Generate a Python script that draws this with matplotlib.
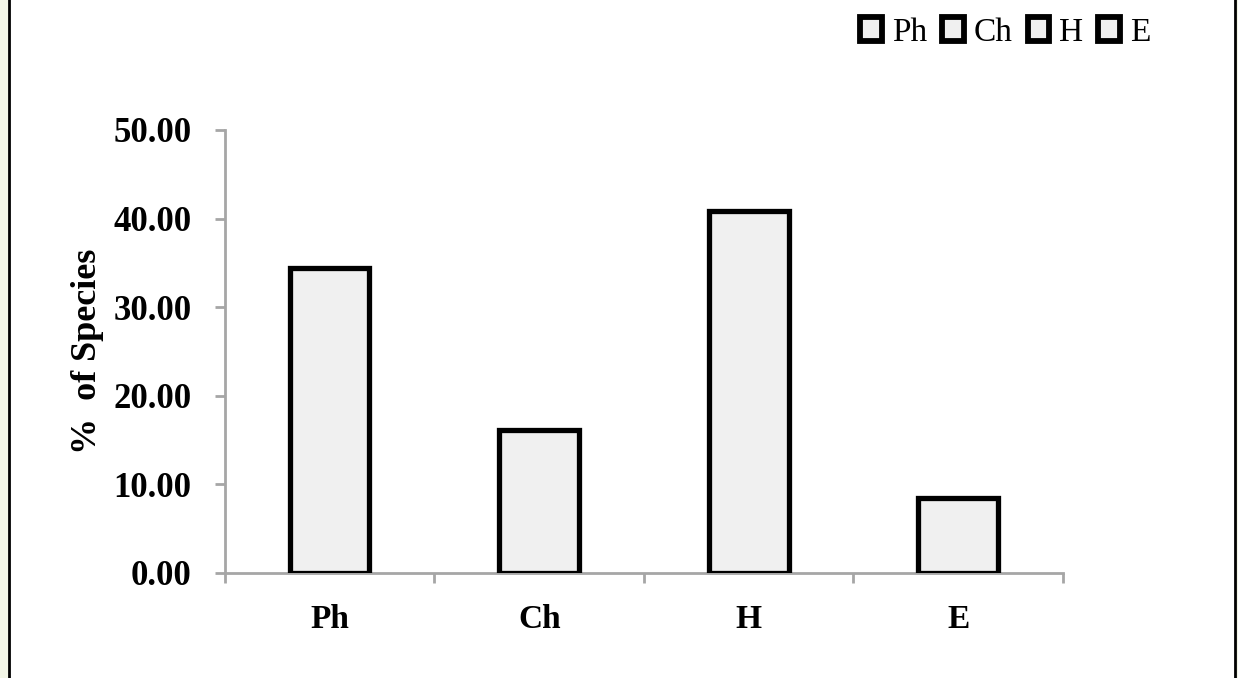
import matplotlib
matplotlib.use('Agg')
import matplotlib.pyplot as plt
from matplotlib.patches import Patch, Rectangle

# datos
categorias = ['Ph', 'Ch', 'H', 'E']
porcentajes = [34.4, 16.1, 40.9, 8.5]
ticks_y = [0, 10, 20, 30, 40, 50]

plt.rcParams['font.family'] = 'Liberation Serif'

fig = plt.figure(figsize=(12.38, 6.78), dpi=100)
ax = fig.add_axes([0.1817, 0.1549, 0.6769, 0.6534])

gris = '#a6a6a6'
pos = range(len(categorias))
ax.bar(pos, porcentajes, width=0.38, color='#f0f0f0', edgecolor='black', linewidth=3.8, zorder=3)

ax.set_xlim(-0.5, len(categorias) - 0.5)
ax.set_ylim(0, 50)
ax.set_yticks(ticks_y)
ax.set_yticklabels(['%.2f' % v for v in ticks_y], fontsize=25, fontweight='bold')
ax.set_xticks([p - 0.5 for p in range(len(categorias) + 1)])
ax.set_xticklabels([])
ax.set_xticks(list(pos), minor=True)
ax.set_xticklabels(categorias, minor=True, fontsize=24, fontweight='bold')
ax.tick_params(axis='x', which='minor', length=0, pad=22)
ax.tick_params(axis='x', which='major', length=7, width=2, color=gris, direction='out')
ax.tick_params(axis='y', length=7, width=2, color=gris, direction='out', pad=17)

for lado in ['top', 'right']:
    ax.spines[lado].set_visible(False)
for lado in ['left', 'bottom']:
    ax.spines[lado].set_color(gris)
    ax.spines[lado].set_linewidth(2)

ax.set_ylabel('%  of Species', fontsize=26, fontweight='bold', labelpad=7)

handles = [Patch(facecolor='#f0f0f0', edgecolor='black', linewidth=4.2) for c in categorias]
fig.legend(handles, categorias, loc='center', bbox_to_anchor=(0.812, 0.952), ncol=4, frameon=False,
           fontsize=24, handlelength=0.65, handleheight=0.7, handletextpad=0.3, columnspacing=0.45)

# marco de la imagen
fig.patches.append(Rectangle((0, 0), 8 / 1238, 1, transform=fig.transFigure, color='#f2f5e6', zorder=0))
fig.patches.append(Rectangle((1236 / 1238, 0), 2 / 1238, 1, transform=fig.transFigure, color='#f2f5e6', zorder=0))
fig.add_artist(plt.Line2D([9 / 1238, 9 / 1238], [0, 1], color='black', linewidth=2, transform=fig.transFigure))
fig.add_artist(plt.Line2D([1235 / 1238, 1235 / 1238], [0, 1], color='black', linewidth=2, transform=fig.transFigure))

fig.savefig('out.png', dpi=100)
plt.close()
